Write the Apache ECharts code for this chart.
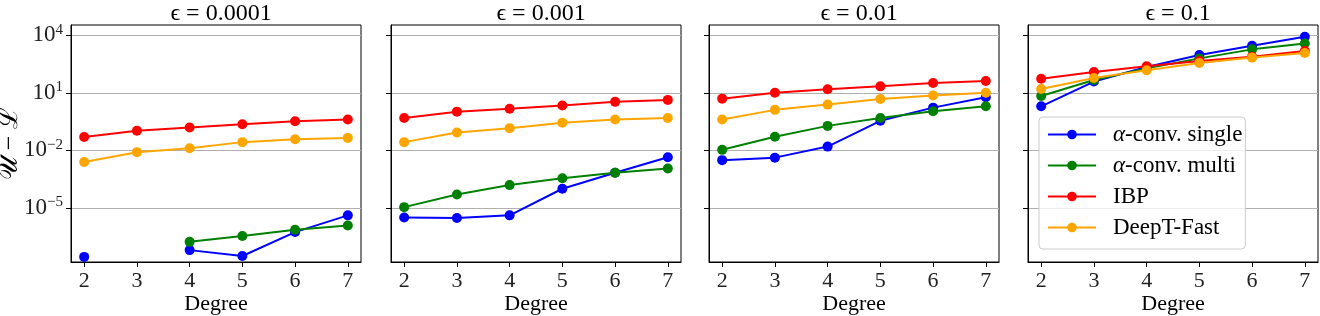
<!DOCTYPE html>
<html>
<head>
<meta charset="utf-8">
<script src="https://cdn.jsdelivr.net/npm/echarts@6/dist/echarts.min.js"></script>
<style>
  html, body { margin: 0; background: #fff; }
  #chart { width: 1320px; height: 316px; }
</style>
</head>
<body>
<div id="chart"></div>
<script>
const degrees = [2, 3, 4, 5, 6, 7];
const epsilons = ['0.0001', '0.001', '0.01', '0.1'];

// U - L, one row per epsilon panel, one value per degree (null = no point)
const alphaSingle = [
  [2.8e-8, null, 6.3e-8, 3.1e-8, 5.5e-7, 4.1e-6],
  [3.2e-6, 3.0e-6, 4.1e-6, 1.0e-4, 6.8e-4, 4.4e-3],
  [3.1e-3, 4.2e-3, 0.0158, 0.35, 1.7, 5.9],
  [2.0, 39, 224, 955, 2880, 8500],
];
const alphaMulti = [
  [null, null, 1.7e-7, 3.4e-7, 7.2e-7, 1.2e-6],
  [1.1e-5, 5.0e-5, 1.55e-4, 3.5e-4, 6.9e-4, 1.15e-3],
  [0.0107, 0.052, 0.19, 0.49, 1.1, 2.0],
  [6.9, 47, 190, 630, 1860, 3800],
];
const ibp = [
  [0.050, 0.105, 0.155, 0.23, 0.33, 0.41],
  [0.49, 1.05, 1.5, 2.2, 3.4, 4.3],
  [5.0, 10.2, 15.5, 21.9, 33, 42],
  [54, 123, 245, 457, 776, 1510],
];
const deepTFast = [
  [0.0025, 0.0081, 0.0129, 0.027, 0.038, 0.045],
  [0.027, 0.085, 0.145, 0.28, 0.41, 0.49],
  [0.41, 1.3, 2.45, 4.8, 7.4, 10.2],
  [15.8, 60, 151, 363, 692, 1200],
];

// y axis works on log10(U - L); ticks at these exponents
const yTickExps = [-5, -2, 1, 4];

const methods = [
  { name: 'α-conv. single', values: alphaSingle, color: '#0000ff' },
  { name: 'α-conv. multi', values: alphaMulti, color: '#008000' },
  { name: 'IBP', values: ibp, color: '#ff0000' },
  { name: 'DeepT-Fast', values: deepTFast, color: '#ffa500' },
];

const FONT = '"Liberation Serif", "DejaVu Serif", serif';
const lefts = [71, 391, 709, 1028];
const W = 290, TOP = 25, H = 237;

const fmtExp = (v) => `{b|10}{s|${v < 0 ? '\u2212' + (-v) : v}}`;

const chart = echarts.init(document.getElementById('chart'));

chart.setOption({
  animation: false,
  title: epsilons.map((e, i) => ({
    text: 'ϵ = ' + e,
    left: lefts[i] + W / 2,
    top: -3,
    textAlign: 'center',
    textStyle: { fontFamily: FONT, fontSize: 24, fontWeight: 'normal', color: '#000' },
  })),
  grid: lefts.map((l) => ({
    left: l, top: TOP, width: W, height: H,
    outerBoundsMode: 'none',
    show: true, borderColor: '#000', borderWidth: 1, backgroundColor: 'transparent',
  })),
  xAxis: lefts.map((_, i) => ({
    type: 'value',
    gridIndex: i,
    min: 1.75,
    max: 7.25,
    axisLine: { show: true, onZero: false, lineStyle: { color: '#000' } },
    axisTick: { show: true, length: 5, lineStyle: { color: '#000' }, customValues: degrees },
    axisLabel: { customValues: degrees, margin: 8, fontFamily: FONT, fontSize: 22, color: '#222' },
    splitLine: { show: false },
    name: 'Degree',
    nameLocation: 'middle',
    nameGap: 31,
    nameMoveOverlap: false,
    nameTextStyle: { fontFamily: FONT, fontSize: 22, color: '#000' },
  })),
  yAxis: lefts.map((_, i) => ({
    type: 'value',
    gridIndex: i,
    min: -7.82,
    max: 4.54,
    axisLine: { show: true, onZero: false, lineStyle: { color: '#000' } },
    axisTick: { show: true, length: 5, lineStyle: { color: '#000' }, customValues: yTickExps },
    axisLabel: {
      show: i === 0,
      customValues: yTickExps,
      margin: 8,
      formatter: fmtExp,
      rich: {
        b: { fontFamily: FONT, fontSize: 23, color: '#222', lineHeight: 26 },
        s: { fontFamily: FONT, fontSize: 15, color: '#222', verticalAlign: 'top', lineHeight: 15 },
      },
    },
    splitLine: { show: true, lineStyle: { color: '#b0b0b0', width: 1 } },
    name: i === 0 ? '𝒰 − ℒ' : '',
    nameLocation: 'middle',
    nameGap: 48,
    nameMoveOverlap: false,
    nameTextStyle: { fontFamily: FONT, fontSize: 26, color: '#000' },
  })),
  legend: {
    data: methods.map((m) => m.name),
    orient: 'vertical',
    left: 1039,
    top: 117,
    itemWidth: 48,
    itemHeight: 12,
    itemGap: 6,
    padding: [5, 3, 9, 8],
    backgroundColor: 'rgba(255,255,255,0.8)',
    borderColor: '#cccccc',
    borderWidth: 1,
    borderRadius: 4,
    selectedMode: false,
    formatter: (name) => name.replace('α', '{i|α}'),
    textStyle: {
      fontFamily: FONT, fontSize: 23, color: '#000', lineHeight: 25, padding: [0, 0, 0, 12],
      rich: { i: { fontFamily: FONT, fontSize: 23, fontStyle: 'italic', color: '#000' } },
    },
  },
  series: lefts.flatMap((_, i) => methods.map((m) => ({
    type: 'line',
    name: m.name,
    xAxisIndex: i,
    yAxisIndex: i,
    data: degrees.map((d, k) => {
      const v = m.values[i][k];
      return [d, v == null ? '-' : Math.log10(v)];
    }),
    symbol: 'circle',
    symbolSize: 10,
    lineStyle: { width: 2, color: m.color },
    itemStyle: { color: m.color },
    emphasis: { disabled: true },
  }))),
});
</script>
</body>
</html>
